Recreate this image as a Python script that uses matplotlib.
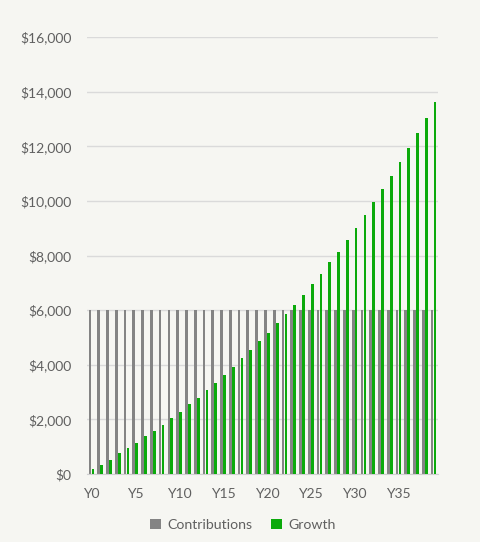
import numpy as np
import matplotlib
matplotlib.use("Agg")
import matplotlib.pyplot as plt
from matplotlib.ticker import FuncFormatter, MultipleLocator

years = [f"Y{i}" for i in range(40)]
contributions = [6000] * 40
growth = [
    190, 330, 510, 760, 950, 1140, 1380, 1570, 1800, 2050,
    2280, 2570, 2800, 3090, 3330, 3610, 3900, 4230, 4530, 4860,
    5150, 5530, 5850, 6190, 6570, 6950, 7340, 7750, 8140, 8580,
    8990, 9470, 9950, 10430, 10900, 11440, 11950, 12490, 13050, 13620,
]

BG = "#F6F6F2"
GRAY = "#848484"
GREEN = "#0BAA0B"
TEXT = "#606060"

plt.rcParams["font.family"] = ["Lato", "DejaVu Sans"]

fig = plt.figure(figsize=(4.8, 5.42), dpi=100, facecolor=BG)
ax = fig.add_axes([87 / 480, 1 - 474 / 542, 351 / 480, 437 / 542])
ax.set_facecolor(BG)

x = np.arange(len(years))
w = 0.31
ax.bar(x - 0.17, contributions, width=w, color=GRAY, label="Contributions", zorder=2)
ax.bar(x + 0.17, growth, width=w, color=GREEN, label="Growth", zorder=3)

ax.set_xlim(-0.5, len(years) - 0.5)
ax.set_ylim(0, 16000)
ax.yaxis.set_major_locator(MultipleLocator(2000))
ax.yaxis.set_major_formatter(FuncFormatter(lambda v, _: f"${v:,.0f}"))
ax.set_xticks(x[::5])
ax.set_xticklabels(years[::5])

ax.grid(True, axis="y", color="#DADADA", linewidth=1.0, zorder=0)
ax.set_axisbelow(True)
for side in ("top", "right", "left"):
    ax.spines[side].set_visible(False)
ax.spines["bottom"].set_color("#D0D0D0")
ax.tick_params(axis="both", length=0, colors=TEXT, labelsize=10)
ax.tick_params(axis="y", pad=11)
ax.tick_params(axis="x", pad=10)

fig.legend(*ax.get_legend_handles_labels(), loc="center",
           bbox_to_anchor=(0.506, 1 - 525 / 542), ncol=2, frameon=False,
           fontsize=10.2, labelcolor=TEXT, handlelength=0.75, handleheight=0.75,
           handletextpad=0.45, columnspacing=1.3)

fig.savefig("out.png", dpi=100, facecolor=BG)
